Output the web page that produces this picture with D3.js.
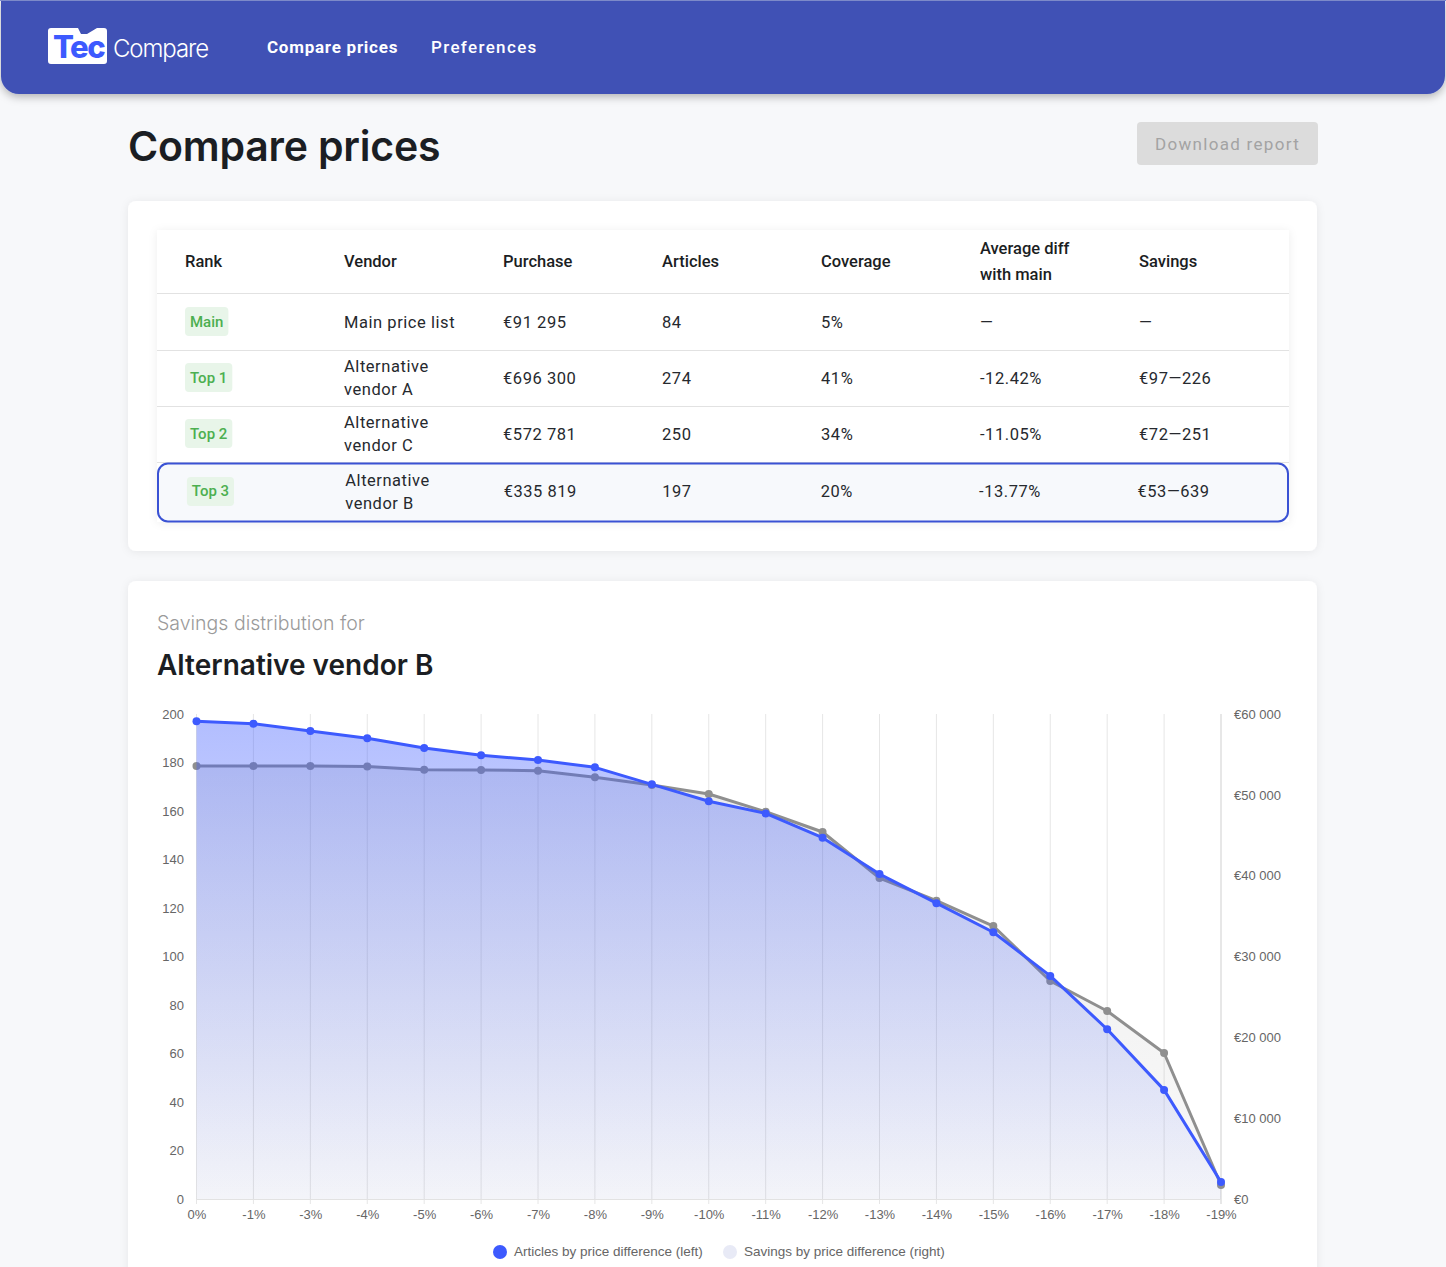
<!DOCTYPE html>
<html>
<head>
<meta charset="utf-8">
<title>Compare prices</title>
<script src="https://cdn.jsdelivr.net/npm/d3@7"></script>
<style>
  html, body { margin: 0; padding: 0; background: #f7f8fa; overflow: hidden; }
  svg { display: block; }
  text { font-family: Roboto, sans-serif; }
  .axis text { font-family: "Liberation Sans", Arial, sans-serif; font-size: 13px; fill: #666; }
  .heading { font-family: Inter, sans-serif; font-weight: 600; fill: #1b1e23; }
</style>
</head>
<body>
<div id="page"></div>
<script>
// table
const tableHeaders = ['Rank', 'Vendor', 'Purchase', 'Articles', 'Coverage', ['Average diff', 'with main'], 'Savings'];
const ranks = ['Main', 'Top 1', 'Top 2', 'Top 3'];
const vendors = [['Main price list'], ['Alternative', 'vendor A'], ['Alternative', 'vendor C'], ['Alternative', 'vendor B']];
const purchases = ['€91 295', '€696 300', '€572 781', '€335 819'];
const articles = ['84', '274', '250', '197'];
const coverages = ['5%', '41%', '34%', '20%'];
const avgDiffs = ['—', '-12.42%', '-11.05%', '-13.77%'];
const savings = ['—', '€97—226', '€72—251', '€53—639'];

// chart
const priceSteps = ['0%', '-1%', '-3%', '-4%', '-5%', '-6%', '-7%', '-8%', '-9%', '-10%', '-11%', '-12%', '-13%', '-14%', '-15%', '-16%', '-17%', '-18%', '-19%'];
const articlesByDiff = [197, 196, 193, 190, 186, 183, 181, 178, 171, 164, 159, 149, 134, 122, 110, 92, 70, 45, 7];
const savingsByDiff = [53570, 53570, 53570, 53500, 53110, 53070, 52990, 52170, 51220, 50100, 47910, 45400, 39710, 36900, 33770, 26970, 23260, 18060, 1730];
const legendLabels = ['Articles by price difference (left)', 'Savings by price difference (right)'];

const width = 1446, height = 1267;
const svg = d3.select('#page').append('svg').attr('width', width).attr('height', height);
const defs = svg.append('defs');

function shadow(id, dy, blur, opacity) {
  const f = defs.append('filter').attr('id', id)
    .attr('x', '-10%').attr('y', '-30%').attr('width', '120%').attr('height', '170%');
  f.append('feDropShadow').attr('dx', 0).attr('dy', dy).attr('stdDeviation', blur)
    .attr('flood-color', '#000').attr('flood-opacity', opacity);
}
shadow('headerShadow', 3, 4, 0.28);
shadow('cardShadow', 1, 4, 0.07);

function gradient(id, color, top, bottom) {
  const g = defs.append('linearGradient').attr('id', id)
    .attr('gradientUnits', 'userSpaceOnUse')
    .attr('x1', 0).attr('y1', 714).attr('x2', 0).attr('y2', 1199);
  g.append('stop').attr('offset', 0).attr('stop-color', color).attr('stop-opacity', top);
  g.append('stop').attr('offset', 1).attr('stop-color', color).attr('stop-opacity', bottom);
}
gradient('articlesFill', '#3d5afe', 0.4, 0.03);
gradient('savingsFill', '#6b6b6b', 0.14, 0.04);

// header
const header = svg.append('g');
header.append('path')
  .attr('d', 'M1,0H1445V76a18,18 0 0 1 -18,18H19a18,18 0 0 1 -18,-18Z')
  .attr('fill', '#3f51b5')
  .attr('filter', 'url(#headerShadow)');
header.append('rect').attr('x', 0).attr('y', 0).attr('width', width).attr('height', 1).attr('fill', '#7d8ac9');
header.append('path')
  .attr('d', 'M51,28H78l3,6 6,0 10,-6H104a3,3 0 0 1 3,3V61a3,3 0 0 1 -3,3H51a3,3 0 0 1 -3,-3V31a3,3 0 0 1 3,-3Z')
  .attr('fill', '#fff');
header.append('text').text('Tec').attr('x', 53).attr('y', 58)
  .attr('font-size', 31).attr('font-weight', 800).attr('letter-spacing', -1.5)
  .attr('fill', '#3d5afe').style('font-family', 'Inter, sans-serif');
header.append('text').text('Compare').attr('x', 113).attr('y', 57)
  .attr('font-size', 24).attr('font-weight', 300).attr('letter-spacing', -1.1)
  .attr('fill', '#fff').style('font-family', 'Inter, sans-serif');
header.append('text').text('Compare prices').attr('x', 267).attr('y', 53)
  .attr('font-size', 17).attr('font-weight', 700).attr('letter-spacing', 0.75).attr('fill', '#fff');
header.append('text').text('Preferences').attr('x', 431).attr('y', 53)
  .attr('font-size', 17).attr('font-weight', 500).attr('letter-spacing', 1.35).attr('fill', '#fff');

// title row
svg.append('text').attr('class', 'heading').text('Compare prices').attr('x', 128).attr('y', 161)
  .attr('font-size', 41).attr('letter-spacing', -0.2);
svg.append('rect').attr('x', 1137).attr('y', 122).attr('width', 181).attr('height', 43).attr('rx', 4).attr('fill', '#dcdcdc');
svg.append('text').text('Download report').attr('x', 1227.5).attr('y', 150).attr('text-anchor', 'middle')
  .attr('font-size', 17).attr('letter-spacing', 1.3).attr('fill', '#a3a3a3');

// cards
svg.append('rect').attr('x', 128).attr('y', 201).attr('width', 1189).attr('height', 350).attr('rx', 8)
  .attr('fill', '#fff').attr('filter', 'url(#cardShadow)');
svg.append('rect').attr('x', 128).attr('y', 581).attr('width', 1189).attr('height', 720).attr('rx', 8)
  .attr('fill', '#fff').attr('filter', 'url(#cardShadow)');

// table
const table = svg.append('g');
const columnX = d3.scaleBand().domain(d3.range(tableHeaders.length)).range([185, 1298]);
const rowMiddle = [322, 378, 434, 492];

table.append('rect').attr('x', 157).attr('y', 230).attr('width', 1132).attr('height', 292)
  .attr('fill', '#fff').attr('filter', 'url(#cardShadow)');
table.selectAll('line.rule').data([293, 350, 406, 462]).enter().append('line').attr('class', 'rule')
  .attr('x1', 157).attr('x2', 1289).attr('y1', d => d + 0.5).attr('y2', d => d + 0.5)
  .attr('stroke', '#e2e2e2');
table.append('rect').attr('x', 158).attr('y', 463.5).attr('width', 1130).attr('height', 58).attr('rx', 10)
  .attr('fill', '#f7f9fc').attr('stroke', '#3a52d4').attr('stroke-width', 2);

function multiline(sel, lines, x, middle, gap) {
  lines.forEach((l, i) => {
    sel.append('text').text(l).attr('x', x)
      .attr('y', middle + 5.5 + (i - (lines.length - 1) / 2) * gap);
  });
}

const head = table.append('g').attr('font-size', 16.5).attr('font-weight', 500).attr('fill', '#1b1e23');
tableHeaders.forEach((h, i) => {
  multiline(head, Array.isArray(h) ? h : [h], columnX(i), 261, 26);
});

ranks.forEach((rank, r) => {
  const row = table.append('g').attr('font-size', 16.5).attr('letter-spacing', 0.55).attr('fill', '#26292e');
  // selected row is scaled down slightly in the original
  if (r === 3) row.attr('transform', 'translate(723,0) scale(0.9965,1) translate(-723,0)');
  const badge = row.append('g');
  const label = badge.append('text').text(rank).attr('x', columnX(0) + 5).attr('y', rowMiddle[r] + 4.5)
    .attr('font-size', 15).attr('font-weight', 500).attr('letter-spacing', 0).attr('fill', '#4caf50');
  const w = label.node().getComputedTextLength();
  badge.insert('rect', 'text').attr('x', columnX(0)).attr('y', rowMiddle[r] - 15)
    .attr('width', w + 10).attr('height', 29).attr('rx', 4).attr('fill', '#e8f5e9');
  multiline(row, vendors[r], columnX(1), rowMiddle[r], 23.5);
  [purchases, articles, coverages, avgDiffs, savings].forEach((col, c) => {
    multiline(row, [col[r]], columnX(c + 2), rowMiddle[r], 0);
  });
});

// chart headings
svg.append('text').text('Savings distribution for').attr('x', 157).attr('y', 630)
  .attr('font-size', 19.5).attr('font-weight', 300).attr('fill', '#9a9a9a').style('font-family', 'Inter, sans-serif');
svg.append('text').attr('class', 'heading').text('Alternative vendor B').attr('x', 157).attr('y', 675)
  .attr('font-size', 28);

// chart
const margin = {top: 714, left: 196.5, right: 225, bottom: 68};
const innerW = width - margin.left - margin.right;
const innerH = height - margin.top - margin.bottom - 0;
const plotBottom = 1199;

const x = d3.scalePoint().domain(priceSteps).range([margin.left, width - margin.right]);
const yLeft = d3.scaleLinear().domain([0, 200]).range([plotBottom, margin.top]);
const yRight = d3.scaleLinear().domain([0, 60000]).range([plotBottom, margin.top]);

const chart = svg.append('g');

chart.selectAll('line.grid').data(priceSteps).enter().append('line').attr('class', 'grid')
  .attr('x1', d => x(d)).attr('x2', d => x(d))
  .attr('y1', margin.top).attr('y2', plotBottom + 5)
  .attr('stroke', (d, i) => i === priceSteps.length - 1 ? '#cfcfcf' : '#e6e6e6');
chart.append('line').attr('x1', margin.left).attr('x2', x(priceSteps[priceSteps.length - 1]))
  .attr('y1', plotBottom + 0.5).attr('y2', plotBottom + 0.5).attr('stroke', '#e2e2e2');

function drawSeries(values, y, fill, stroke) {
  const pts = priceSteps.map((s, i) => ({s: s, v: values[i]}));
  const g = chart.append('g');
  g.append('path').datum(pts).attr('fill', fill)
    .attr('d', d3.area().x(d => x(d.s)).y0(plotBottom).y1(d => y(d.v)));
  g.append('path').datum(pts).attr('fill', 'none').attr('stroke', stroke).attr('stroke-width', 3)
    .attr('stroke-linejoin', 'round')
    .attr('d', d3.line().x(d => x(d.s)).y(d => y(d.v)));
  return {g: g, pts: pts, y: y, stroke: stroke};
}
function drawPoints(series, target) {
  target.selectAll('circle').data(series.pts).enter().append('circle')
    .attr('cx', d => x(d.s)).attr('cy', d => series.y(d.v)).attr('r', 4)
    .attr('fill', series.stroke);
}

// savings goes underneath, the articles area tints its line
const savingsSeries = drawSeries(savingsByDiff, yRight, 'url(#savingsFill)', '#8f8f8f');
drawPoints(savingsSeries, savingsSeries.g.append('g'));
const articlesSeries = drawSeries(articlesByDiff, yLeft, 'url(#articlesFill)', '#3d5afe');
drawPoints(articlesSeries, articlesSeries.g.append('g'));

// axes
const clean = g => { g.select('.domain').remove(); g.selectAll('line').remove(); g.attr('font-family', null).attr('font-size', null); };
chart.append('g').attr('class', 'axis').attr('transform', `translate(184,0)`)
  .call(d3.axisLeft(yLeft).tickValues(d3.range(0, 201, 20)).tickSize(0).tickPadding(0))
  .call(clean);
chart.append('g').attr('class', 'axis').attr('transform', `translate(1234,0)`)
  .call(d3.axisRight(yRight).tickValues(d3.range(0, 60001, 10000)).tickSize(0).tickPadding(0)
    .tickFormat(d => '€' + d3.format(',')(d).replace(/,/g, ' ')))
  .call(clean);
chart.append('g').attr('class', 'axis').attr('transform', `translate(0,${plotBottom + 11})`)
  .call(d3.axisBottom(x).tickSize(0).tickPadding(0))
  .call(clean);

// legend
const legend = svg.append('g').attr('class', 'axis');
const legendItems = [{cx: 500, color: '#3d5afe'}, {cx: 730, color: '#e8eaf6'}];
legendLabels.forEach((l, i) => {
  legend.append('circle').attr('cx', legendItems[i].cx).attr('cy', 1252).attr('r', 7).attr('fill', legendItems[i].color);
  legend.append('text').text(l).attr('x', legendItems[i].cx + 14).attr('y', 1256).style('font-size', '13.5px');
});
</script>
</body>
</html>
